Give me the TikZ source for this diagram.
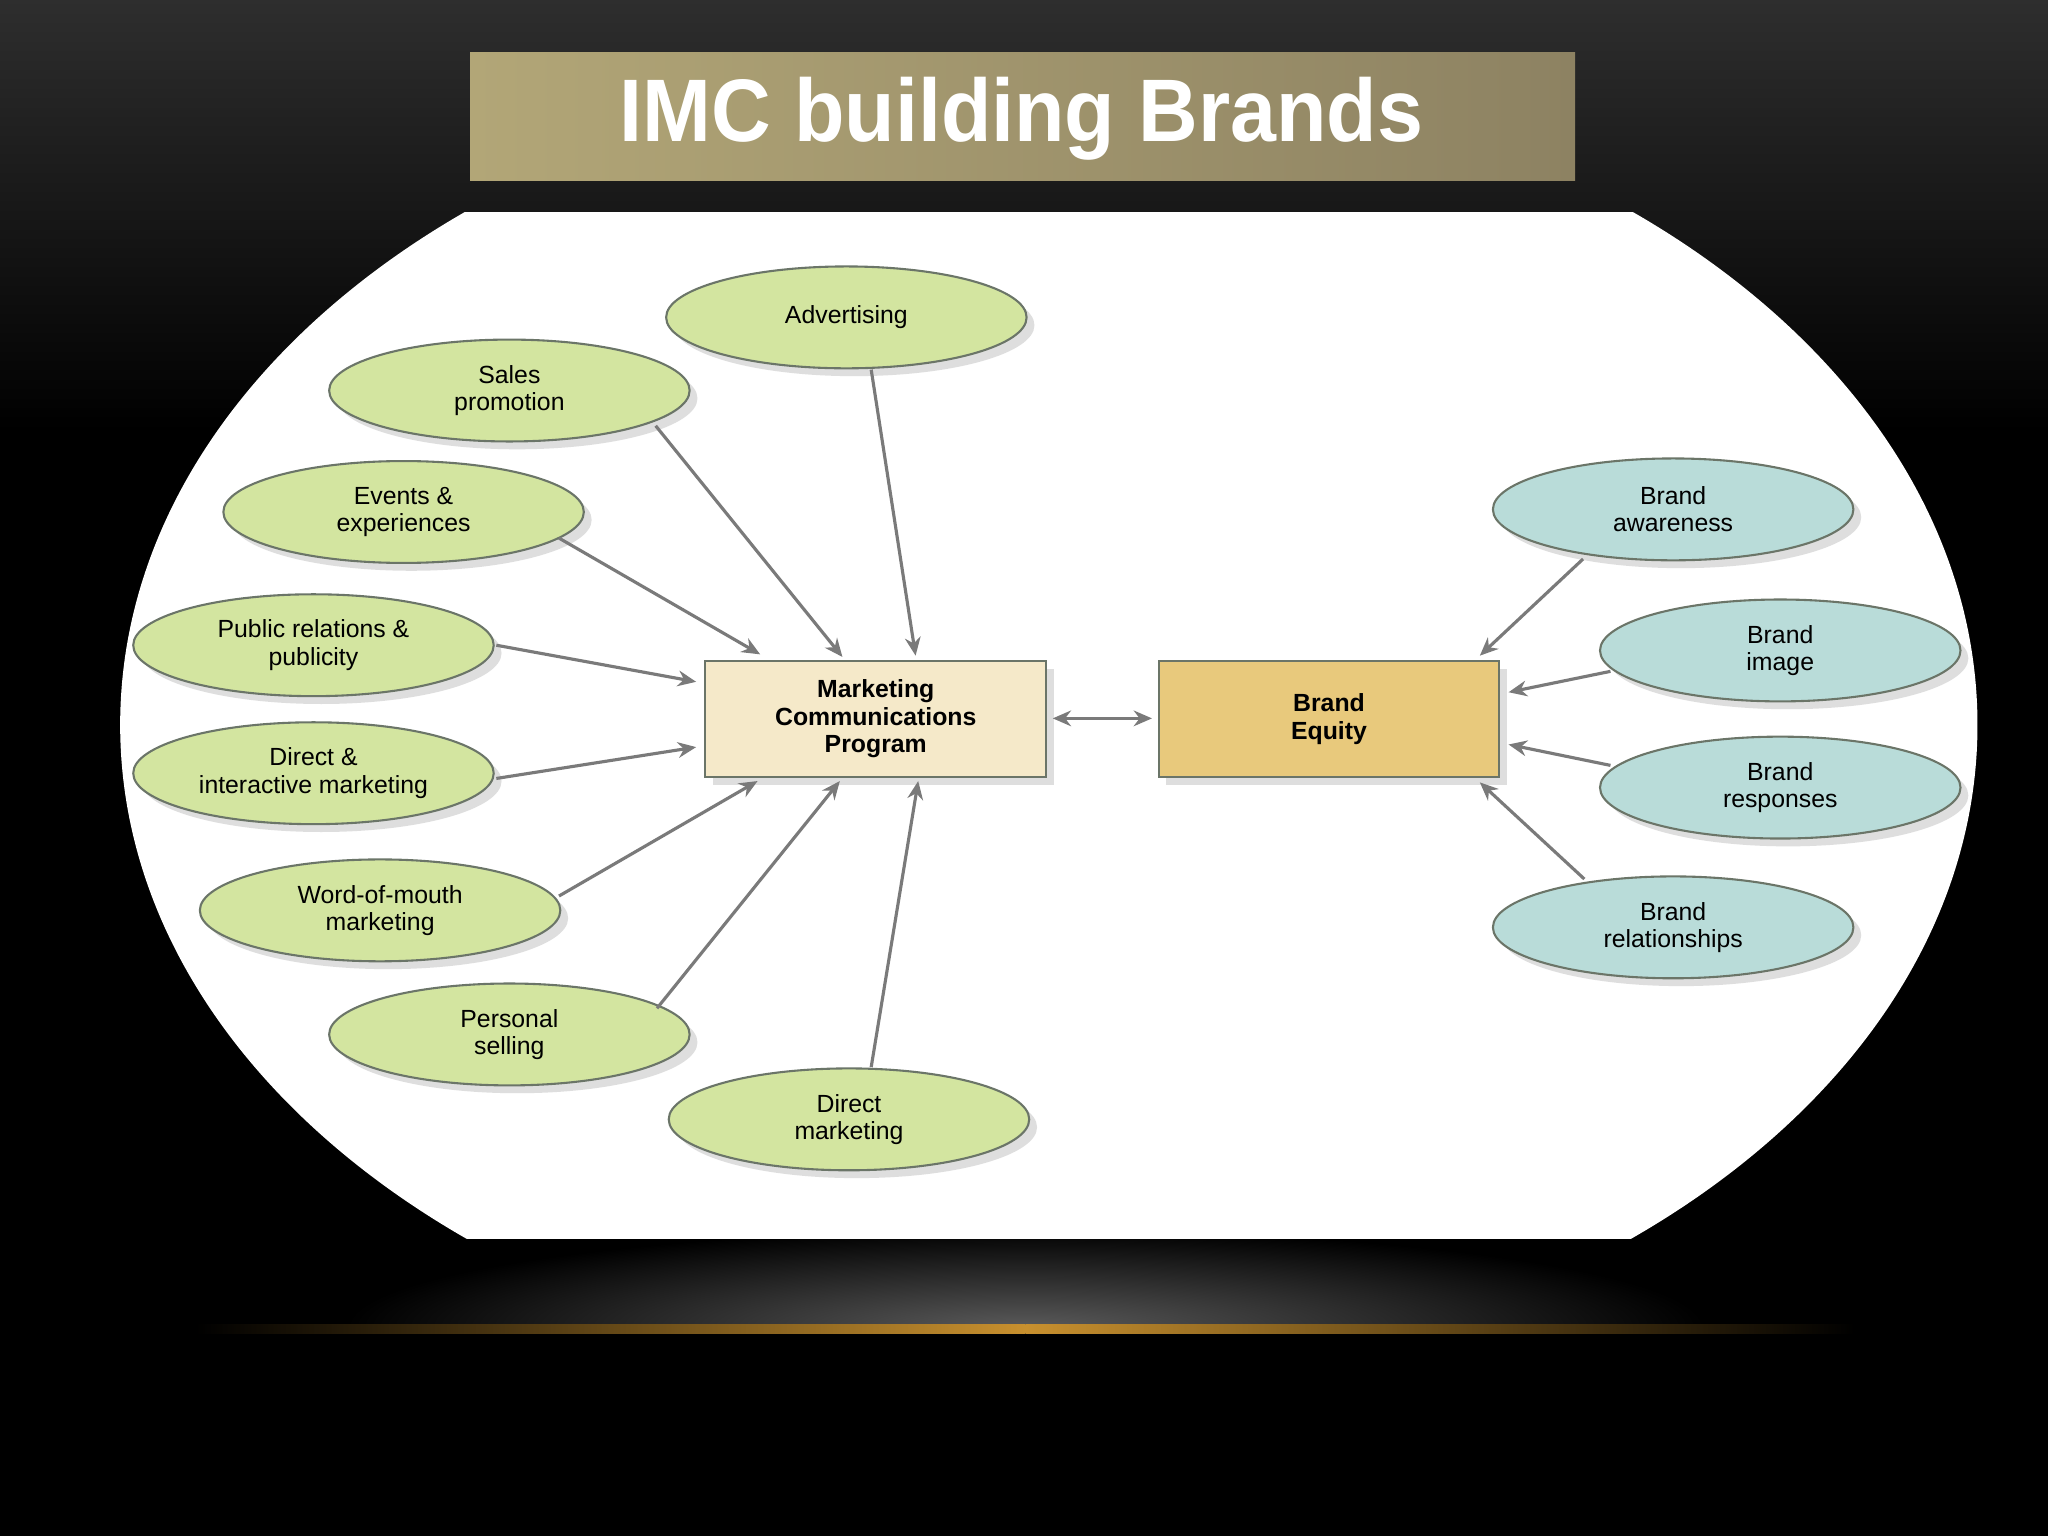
\documentclass[tikz,border=0pt]{standalone}
\usepackage{fontspec}
\setmainfont{Liberation Sans}
\usetikzlibrary{arrows.meta,shapes.geometric,shadows}
\definecolor{gfill}{HTML}{D3E5A0}
\definecolor{bfill}{HTML}{B9DCD9}
\definecolor{edge}{HTML}{6B7568}
\definecolor{arr}{HTML}{7A7A7A}
\definecolor{tA}{HTML}{B2A677}\definecolor{tB}{HTML}{8D8262}
\definecolor{mcpfill}{HTML}{F5E9C9}\definecolor{befill}{HTML}{E8C97C}
\definecolor{glow}{HTML}{C8902E}
\tikzset{
 el/.style={ellipse,draw=edge,line width=0.8pt,minimum width=138pt,minimum height=39pt,inner sep=0pt,align=center,font=\fontsize{9.5}{10.5}\selectfont,drop shadow={shadow xshift=3pt,shadow yshift=-3pt,fill=black!25}},
 gel/.style={el,fill=gfill},
 bel/.style={el,fill=bfill},
 bx/.style={rectangle,draw=edge,line width=0.8pt,minimum width=130.5pt,minimum height=44.5pt,align=center,font=\bfseries\fontsize{9.5}{10.5}\selectfont,drop shadow={shadow xshift=3pt,shadow yshift=-3pt,fill=black!25}},
 ar/.style={draw=arr,line width=1.2pt,-{Stealth[length=7pt,width=6pt]}}
}
\begin{document}
\begin{tikzpicture}[x=0.5pt,y=-0.5pt]
\useasboundingbox (0,0) rectangle (1568,1176);
\shade[top color=black!82,bottom color=black] (0,0) rectangle (1568,330);
\fill[black] (0,330) rectangle (1568,1176);
% glow
\begin{scope}
\clip (0,900) rectangle (1568,1016);
\shade[inner color=black!65,outer color=black] (785,1016) ellipse [x radius=520,y radius=75];
\end{scope}
\shade[left color=black,right color=glow] (150,1014) rectangle (785,1021);
\shade[right color=black,left color=glow] (785,1014) rectangle (1420,1021);
% title
\shade[left color=tA,right color=tB] (360,40) rectangle (1206,138);
\node[white,font=\bfseries\fontsize{34}{34}\selectfont,xscale=0.93] (title) at (782,91) {IMC building Brands};
% white region
\begin{scope}
\clip (0,163) rectangle (1568,948);
\fill[white] (803,555) ellipse [x radius=711,y radius=505];
\end{scope}
% nodes
\node[gel] (adv) at (648,243) {Advertising};
\node[gel] (sp) at (390,299) {Sales\\promotion};
\node[gel] (ev) at (309,392) {Events \&\\experiences};
\node[gel] (pr) at (240,494) {Public relations \&\\publicity};
\node[gel] (di) at (240,592) {Direct \&\\interactive marketing};
\node[gel] (wom) at (291,697) {Word-of-mouth\\marketing};
\node[gel] (ps) at (390,792) {Personal\\selling};
\node[gel] (dm) at (650,857) {Direct\\marketing};
\node[bel] (ba) at (1281,390) {Brand\\awareness};
\node[bel] (bi) at (1363,498) {Brand\\image};
\node[bel] (br) at (1363,603) {Brand\\responses};
\node[bel] (brl) at (1281,710) {Brand\\relationships};
\node[bx,fill=mcpfill] (mcp) at (670.5,550.5) {Marketing\\Communications\\Program};
\node[bx,fill=befill] (be) at (1017.5,550.5) {Brand\\Equity};
% targets
\coordinate (t1) at (701,502); \coordinate (t2) at (645,503); \coordinate (t3) at (582,501);
\coordinate (t4) at (533,522); \coordinate (t5) at (533,572); \coordinate (t6) at (580,598);
\coordinate (t7) at (643,598); \coordinate (t8) at (703,598);
\coordinate (s1) at (667,283); \coordinate (s2) at (502,326); \coordinate (s3) at (428,412);
\coordinate (s4) at (380,494); \coordinate (s5) at (380,596); \coordinate (s6) at (428,686);
\coordinate (s7) at (503,772); \coordinate (s8) at (667,817);
\draw[ar] (s1)--(t1); \draw[ar] (s2)--(t2); \draw[ar] (s3)--(t3); \draw[ar] (s4)--(t4);
\draw[ar] (s5)--(t5); \draw[ar] (s6)--(t6); \draw[ar] (s7)--(t7); \draw[ar] (s8)--(t8);
\coordinate (u1) at (1212,428); \coordinate (v1) at (1133,502);
\coordinate (u2) at (1233,514); \coordinate (v2) at (1155,530);
\coordinate (u3) at (1233,586); \coordinate (v3) at (1155,570);
\coordinate (u4) at (1213,673); \coordinate (v4) at (1133,599);
\draw[ar] (u1)--(v1); \draw[ar] (u2)--(v2); \draw[ar] (u3)--(v3); \draw[ar] (u4)--(v4);
\coordinate (m1) at (806,550); \coordinate (m2) at (882,550);
\draw[draw=arr,line width=1.2pt,{Stealth[length=7pt,width=6pt]}-{Stealth[length=7pt,width=6pt]}] (m1) -- (m2);
\end{tikzpicture}
\end{document}
